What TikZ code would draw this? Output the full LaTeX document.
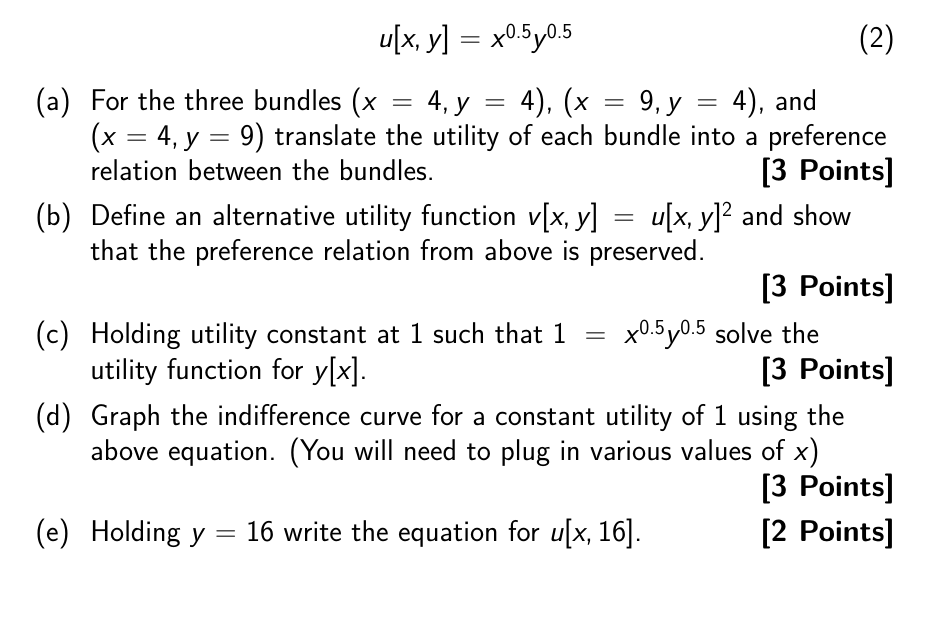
\documentclass[tikz,border=0pt]{standalone}
\begin{document}
\begin{tikzpicture}[x=0.75pt,y=-0.75pt,
  txt/.style={anchor=base west,inner sep=0pt,font=\fontsize{22.5}{26}\sffamily},
  lbl/.style={anchor=base west,inner sep=0pt,font=\fontsize{22.5}{26}\sffamily},
  pts/.style={anchor=base east,inner sep=0pt,font=\fontsize{22.5}{26}\sffamily\bfseries}]
\newcommand{\vi}[1]{\textit{#1}}
\newcommand{\sq}[1]{{\fontsize{16}{18}\selectfont\raisebox{0.45em}{#1}}}
\useasboundingbox (0,0) rectangle (946,620);
\node[anchor=base,inner sep=0pt,font=\fontsize{22.5}{26}\sffamily] (eq) at (475,48) {\vi{u}[\vi{x},\,\vi{y}] = \vi{x}\sq{0.5}\vi{y}\sq{0.5}};
\node[anchor=base east,inner sep=0pt,font=\fontsize{22.5}{26}\sffamily] (n2) at (895,48) {(2)};
\node[lbl] (la) at (35,111) {(a)};
\node[txt] (a1) at (90,111) {For the three bundles (\vi{x} \,=\, 4,\,\vi{y} \,=\, 4), (\vi{x} \,=\, 9,\,\vi{y} \,=\, 4), and};
\node[txt] (a2) at (90,146) {(\vi{x} = 4,\,\vi{y} = 9) translate the utility of each bundle into a preference};
\node[txt] (a3) at (90,181) {relation between the bundles.};
\node[pts] (pa) at (895,181) {[3 Points]};
\node[lbl] (lb) at (35,226) {(b)};
\node[txt] (b1) at (90,226) {Define an alternative utility function \vi{v}[\vi{x},\,\vi{y}] \,=\, \vi{u}[\vi{x},\,\vi{y}]\sq{2} and show};
\node[txt] (b2) at (90,261) {that the preference relation from above is preserved.};
\node[pts] (pb) at (895,297) {[3 Points]};
\node[lbl] (lc) at (35,344) {(c)};
\node[txt] (c1) at (90,344) {Holding utility constant at 1 such that 1 \;=\; \vi{x}\sq{0.5}\vi{y}\sq{0.5} solve the};
\node[txt] (c2) at (90,379) {utility function for \vi{y}[\vi{x}].};
\node[pts] (pc) at (895,379) {[3 Points]};
\node[lbl] (ld) at (35,425) {(d)};
\node[txt] (d1) at (90,425) {Graph the indifference curve for a constant utility of 1 using the};
\node[txt] (d2) at (90,460) {above equation. (You will need to plug in various values of \vi{x})};
\node[pts] (pd) at (895,496) {[3 Points]};
\node[lbl] (le) at (35,541) {(e)};
\node[txt] (e1) at (90,541) {Holding \vi{y} = 16 write the equation for \vi{u}[\vi{x},\,16].};
\node[pts] (pe) at (895,541) {[2 Points]};
\end{tikzpicture}
\end{document}
